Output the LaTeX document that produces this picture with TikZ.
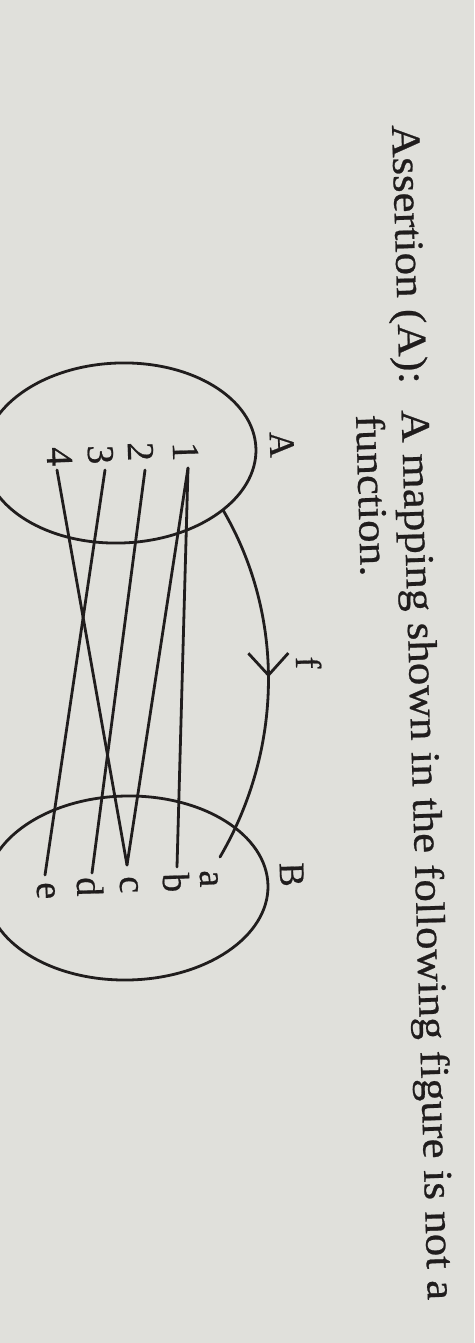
\documentclass[tikz,border=0pt]{standalone}
\usepackage{fontspec}
\setmainfont{Liberation Serif}
\newfontfamily\pagefont{Liberation Serif}[FakeStretch=1.1, FakeBold=0.6]
\newfontfamily\labfont{Liberation Serif}[FakeBold=0.6]
\usetikzlibrary{arrows.meta,decorations.markings,shapes.geometric}
\definecolor{paper}{RGB}{224,224,219}
\definecolor{ink}{RGB}{32,29,29}
\begin{document}
\begin{tikzpicture}[x=1pt,y=1pt,
  txt/.style={font=\pagefont\fontsize{41}{48}\selectfont, text=ink, inner sep=0pt, rotate=-88.3, anchor=base west},
  lbl/.style={font=\labfont\fontsize{38}{44}\selectfont, text=ink, inner sep=0pt, rotate=-88.3, anchor=base},
  setlbl/.style={font=\labfont\fontsize{36}{42}\selectfont, text=ink, inner sep=0pt, rotate=-88.3, anchor=base},
  ln/.style={draw=ink, line width=2.8pt, line cap=round},
  setshape/.style={ellipse, draw=ink, line width=2.8pt, inner sep=0pt, outer sep=0pt},
]
\fill[paper] (0,0) rectangle (474,-1343);
\useasboundingbox (0,0) rectangle (474,-1343);

% question text
\node[txt] (t1) at (392,-125) {Assertion (A):};
\node[txt] (t2) at (401.5,-410) {A mapping shown in the following figure is not a};
\node[txt] (t3) at (356,-415) {function.};

% sets
\node[setshape, minimum width=272pt, minimum height=180pt, rotate=2] (EA) at (120,-453) {};
\node[setshape, minimum width=282pt, minimum height=184pt, rotate=1] (EB) at (127,-888) {};

\node[setlbl] (LA) at (270,-445) {A};
\node[setlbl] (LB) at (280,-875) {B};
\node[setlbl] (Lf) at (296,-663) {f};

% elements of A
\node[lbl] (n1) at (173,-452) {1};
\node[lbl] (n2) at (128,-452) {2};
\node[lbl] (n3) at (88,-455) {3};
\node[lbl] (n4) at (47,-457) {4};

% elements of B
\node[lbl] (ea) at (200,-879) {a};
\node[lbl] (eb) at (163,-883) {b};
\node[lbl] (ec) at (120,-885) {c};
\node[lbl] (ed) at (77,-887) {d};
\node[lbl] (ee) at (37,-891) {e};

% connector end points
\coordinate (p1) at (188,-468);
\coordinate (p2) at (145,-470);
\coordinate (p3) at (105,-470);
\coordinate (p4) at (57,-470);
\coordinate (qb) at (177,-867);
\coordinate (qc) at (127,-865);
\coordinate (qd) at (92,-873);
\coordinate (qe) at (45,-875);

\draw[ln] (p1) -- (qb);
\draw[ln] (p1) -- (qc);
\draw[ln] (p2) -- (qd);
\draw[ln] (p3) -- (qe);
\draw[ln] (p4) -- (qc);

% arrow f
\coordinate (fs) at (223,-510);
\coordinate (fe) at (220,-857);
\draw[ln, postaction={decorate}, decoration={markings,
  mark=at position 0.482 with {\arrow{Straight Barb[length=22pt,width=40pt]}}}]
  (fs) .. controls (285.6,-617) and (282.6,-750) .. (fe);
\end{tikzpicture}
\end{document}
